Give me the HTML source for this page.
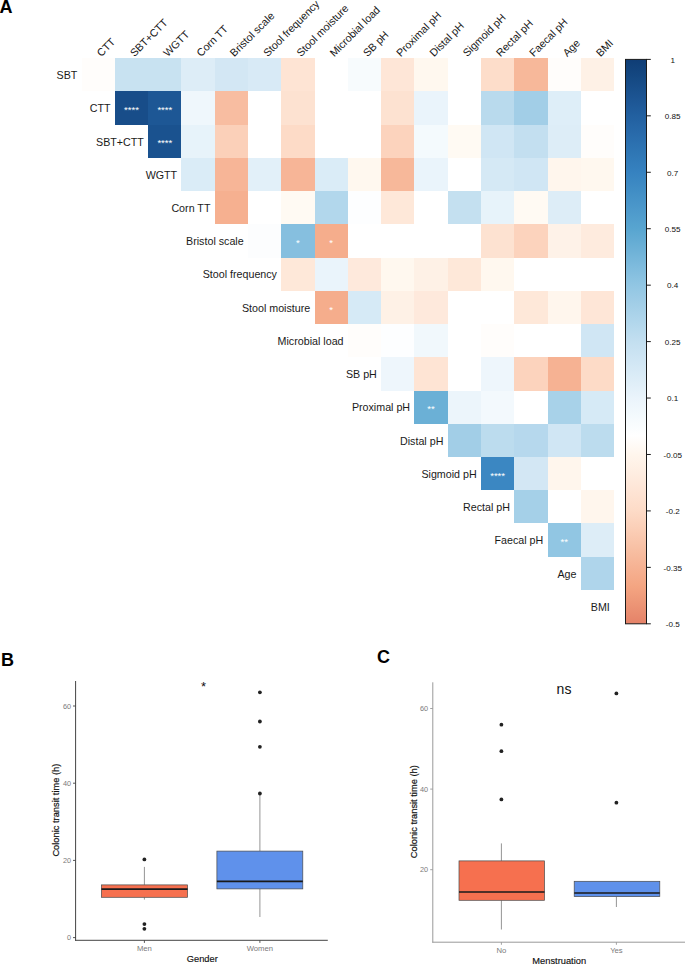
<!DOCTYPE html>
<html><head><meta charset="utf-8"><title>Figure</title>
<style>
html,body{margin:0;padding:0;background:#fff;}
body{width:685px;height:964px;overflow:hidden;position:relative;font-family:"Liberation Sans", sans-serif;}
svg{position:absolute;left:0;top:0;}
svg text{font-family:"Liberation Sans", sans-serif;}
</style></head><body>
<svg width="685" height="964" viewBox="0 0 685 964">
<defs>
<linearGradient id="cb" x1="0" y1="1" x2="0" y2="0">
<stop offset="0.0000" stop-color="#E58268"/>
<stop offset="0.0333" stop-color="#EC9475"/>
<stop offset="0.0667" stop-color="#F4A582"/>
<stop offset="0.1000" stop-color="#F6B293"/>
<stop offset="0.1333" stop-color="#F8C0A4"/>
<stop offset="0.1667" stop-color="#FBCEB6"/>
<stop offset="0.2000" stop-color="#FDDBC7"/>
<stop offset="0.2333" stop-color="#FEE4D4"/>
<stop offset="0.2667" stop-color="#FEEDE1"/>
<stop offset="0.3000" stop-color="#FFF6ED"/>
<stop offset="0.3333" stop-color="#FFFFFF"/>
<stop offset="0.3667" stop-color="#F4FAFD"/>
<stop offset="0.4000" stop-color="#EAF4FB"/>
<stop offset="0.4333" stop-color="#DDEDF7"/>
<stop offset="0.4667" stop-color="#D0E6F4"/>
<stop offset="0.5000" stop-color="#C3DFF0"/>
<stop offset="0.5333" stop-color="#B2D7EC"/>
<stop offset="0.5667" stop-color="#A2CEE7"/>
<stop offset="0.6000" stop-color="#91C6E3"/>
<stop offset="0.6333" stop-color="#7EBBDD"/>
<stop offset="0.6667" stop-color="#6BB0D6"/>
<stop offset="0.7000" stop-color="#58A5D0"/>
<stop offset="0.7333" stop-color="#4D99CB"/>
<stop offset="0.7667" stop-color="#418EC5"/>
<stop offset="0.8000" stop-color="#3682C0"/>
<stop offset="0.8333" stop-color="#2F77B5"/>
<stop offset="0.8667" stop-color="#296BAB"/>
<stop offset="0.9000" stop-color="#2260A0"/>
<stop offset="0.9333" stop-color="#1C5492"/>
<stop offset="0.9667" stop-color="#154983"/>
<stop offset="1.0000" stop-color="#0F3D75"/>
</linearGradient>
</defs>
<text x="-0.5" y="12.9" font-size="18" font-weight="bold" fill="#000">A</text>
<text x="1.0" y="665.5" font-size="18" font-weight="bold" fill="#000">B</text>
<text x="377.0" y="663.3" font-size="18" font-weight="bold" fill="#000">C</text>
<rect x="82" y="58" width="33" height="33" fill="#FFFDFB" shape-rendering="crispEdges"/>
<rect x="115" y="58" width="33" height="33" fill="#C8E2F1" shape-rendering="crispEdges"/>
<rect x="148" y="58" width="33" height="33" fill="#C8E2F1" shape-rendering="crispEdges"/>
<rect x="181" y="58" width="34" height="33" fill="#DDEDF7" shape-rendering="crispEdges"/>
<rect x="215" y="58" width="33" height="33" fill="#D3E7F4" shape-rendering="crispEdges"/>
<rect x="248" y="58" width="33" height="33" fill="#D8EAF6" shape-rendering="crispEdges"/>
<rect x="281" y="58" width="34" height="33" fill="#FEE4D4" shape-rendering="crispEdges"/>
<rect x="315" y="58" width="33" height="33" fill="#FFFFFF" shape-rendering="crispEdges"/>
<rect x="348" y="58" width="33" height="33" fill="#F7FBFD" shape-rendering="crispEdges"/>
<rect x="381" y="58" width="33" height="33" fill="#FEE6D7" shape-rendering="crispEdges"/>
<rect x="414" y="58" width="34" height="33" fill="#FFF8EF" shape-rendering="crispEdges"/>
<rect x="448" y="58" width="33" height="33" fill="#FFFFFF" shape-rendering="crispEdges"/>
<rect x="481" y="58" width="33" height="33" fill="#FDDDCA" shape-rendering="crispEdges"/>
<rect x="514" y="58" width="34" height="33" fill="#F7B89A" shape-rendering="crispEdges"/>
<rect x="548" y="58" width="33" height="33" fill="#FFFDFB" shape-rendering="crispEdges"/>
<rect x="581" y="58" width="33" height="33" fill="#FEF1E6" shape-rendering="crispEdges"/>
<rect x="115" y="91" width="33" height="34" fill="#184D89" shape-rendering="crispEdges"/>
<rect x="148" y="91" width="33" height="34" fill="#1D5795" shape-rendering="crispEdges"/>
<rect x="181" y="91" width="34" height="34" fill="#EFF7FC" shape-rendering="crispEdges"/>
<rect x="215" y="91" width="33" height="34" fill="#F8BDA1" shape-rendering="crispEdges"/>
<rect x="248" y="91" width="33" height="34" fill="#FFFFFF" shape-rendering="crispEdges"/>
<rect x="281" y="91" width="34" height="34" fill="#FDE2D1" shape-rendering="crispEdges"/>
<rect x="315" y="91" width="33" height="34" fill="#FFFFFF" shape-rendering="crispEdges"/>
<rect x="348" y="91" width="33" height="34" fill="#FFFFFF" shape-rendering="crispEdges"/>
<rect x="381" y="91" width="33" height="34" fill="#FDE2D1" shape-rendering="crispEdges"/>
<rect x="414" y="91" width="34" height="34" fill="#EAF4FB" shape-rendering="crispEdges"/>
<rect x="448" y="91" width="33" height="34" fill="#FFFFFF" shape-rendering="crispEdges"/>
<rect x="481" y="91" width="33" height="34" fill="#B9DAED" shape-rendering="crispEdges"/>
<rect x="514" y="91" width="34" height="34" fill="#A2CEE7" shape-rendering="crispEdges"/>
<rect x="548" y="91" width="33" height="34" fill="#DEEEF8" shape-rendering="crispEdges"/>
<rect x="581" y="91" width="33" height="34" fill="#FFFFFF" shape-rendering="crispEdges"/>
<rect x="148" y="125" width="33" height="33" fill="#1A528F" shape-rendering="crispEdges"/>
<rect x="181" y="125" width="34" height="33" fill="#E7F3FA" shape-rendering="crispEdges"/>
<rect x="215" y="125" width="33" height="33" fill="#FBD0B9" shape-rendering="crispEdges"/>
<rect x="248" y="125" width="33" height="33" fill="#FFFFFF" shape-rendering="crispEdges"/>
<rect x="281" y="125" width="34" height="33" fill="#FDDBC7" shape-rendering="crispEdges"/>
<rect x="315" y="125" width="33" height="33" fill="#FFFFFF" shape-rendering="crispEdges"/>
<rect x="348" y="125" width="33" height="33" fill="#FFFFFF" shape-rendering="crispEdges"/>
<rect x="381" y="125" width="33" height="33" fill="#FCD3BD" shape-rendering="crispEdges"/>
<rect x="414" y="125" width="34" height="33" fill="#F4FAFD" shape-rendering="crispEdges"/>
<rect x="448" y="125" width="33" height="33" fill="#FFFAF3" shape-rendering="crispEdges"/>
<rect x="481" y="125" width="33" height="33" fill="#D0E6F4" shape-rendering="crispEdges"/>
<rect x="514" y="125" width="34" height="33" fill="#C3DFF0" shape-rendering="crispEdges"/>
<rect x="548" y="125" width="33" height="33" fill="#DDEDF7" shape-rendering="crispEdges"/>
<rect x="581" y="125" width="33" height="33" fill="#FFFDFB" shape-rendering="crispEdges"/>
<rect x="181" y="158" width="34" height="33" fill="#DAECF7" shape-rendering="crispEdges"/>
<rect x="215" y="158" width="33" height="33" fill="#F7B597" shape-rendering="crispEdges"/>
<rect x="248" y="158" width="33" height="33" fill="#E2F0F9" shape-rendering="crispEdges"/>
<rect x="281" y="158" width="34" height="33" fill="#F7B597" shape-rendering="crispEdges"/>
<rect x="315" y="158" width="33" height="33" fill="#DAECF7" shape-rendering="crispEdges"/>
<rect x="348" y="158" width="33" height="33" fill="#FFF8EF" shape-rendering="crispEdges"/>
<rect x="381" y="158" width="33" height="33" fill="#F7B89A" shape-rendering="crispEdges"/>
<rect x="414" y="158" width="34" height="33" fill="#EAF4FB" shape-rendering="crispEdges"/>
<rect x="448" y="158" width="33" height="33" fill="#FFFFFF" shape-rendering="crispEdges"/>
<rect x="481" y="158" width="33" height="33" fill="#D5E9F5" shape-rendering="crispEdges"/>
<rect x="514" y="158" width="34" height="33" fill="#D0E6F4" shape-rendering="crispEdges"/>
<rect x="548" y="158" width="33" height="33" fill="#FFF6ED" shape-rendering="crispEdges"/>
<rect x="581" y="158" width="33" height="33" fill="#FFF8EF" shape-rendering="crispEdges"/>
<rect x="215" y="191" width="33" height="33" fill="#F6B090" shape-rendering="crispEdges"/>
<rect x="248" y="191" width="33" height="33" fill="#FFFFFF" shape-rendering="crispEdges"/>
<rect x="281" y="191" width="34" height="33" fill="#FFFAF3" shape-rendering="crispEdges"/>
<rect x="315" y="191" width="33" height="33" fill="#B2D7EC" shape-rendering="crispEdges"/>
<rect x="348" y="191" width="33" height="33" fill="#FDFEFF" shape-rendering="crispEdges"/>
<rect x="381" y="191" width="33" height="33" fill="#FEE8D9" shape-rendering="crispEdges"/>
<rect x="414" y="191" width="34" height="33" fill="#FFFFFF" shape-rendering="crispEdges"/>
<rect x="448" y="191" width="33" height="33" fill="#C4E0F0" shape-rendering="crispEdges"/>
<rect x="481" y="191" width="33" height="33" fill="#E7F3FA" shape-rendering="crispEdges"/>
<rect x="514" y="191" width="34" height="33" fill="#FFFAF3" shape-rendering="crispEdges"/>
<rect x="548" y="191" width="33" height="33" fill="#DDEDF7" shape-rendering="crispEdges"/>
<rect x="581" y="191" width="33" height="33" fill="#FFFFFF" shape-rendering="crispEdges"/>
<rect x="248" y="224" width="33" height="34" fill="#FCFDFE" shape-rendering="crispEdges"/>
<rect x="281" y="224" width="34" height="34" fill="#86BFDF" shape-rendering="crispEdges"/>
<rect x="315" y="224" width="33" height="34" fill="#F5AD8C" shape-rendering="crispEdges"/>
<rect x="348" y="224" width="33" height="34" fill="#FFFFFF" shape-rendering="crispEdges"/>
<rect x="381" y="224" width="33" height="34" fill="#FFFFFF" shape-rendering="crispEdges"/>
<rect x="414" y="224" width="34" height="34" fill="#FFFFFF" shape-rendering="crispEdges"/>
<rect x="448" y="224" width="33" height="34" fill="#FFFFFF" shape-rendering="crispEdges"/>
<rect x="481" y="224" width="33" height="34" fill="#FDE2D1" shape-rendering="crispEdges"/>
<rect x="514" y="224" width="34" height="34" fill="#FCD3BD" shape-rendering="crispEdges"/>
<rect x="548" y="224" width="33" height="34" fill="#FEF2E8" shape-rendering="crispEdges"/>
<rect x="581" y="224" width="33" height="34" fill="#FEEBDE" shape-rendering="crispEdges"/>
<rect x="281" y="258" width="34" height="33" fill="#FEE8D9" shape-rendering="crispEdges"/>
<rect x="315" y="258" width="33" height="33" fill="#EAF4FB" shape-rendering="crispEdges"/>
<rect x="348" y="258" width="33" height="33" fill="#FEE9DC" shape-rendering="crispEdges"/>
<rect x="381" y="258" width="33" height="33" fill="#FFF8EF" shape-rendering="crispEdges"/>
<rect x="414" y="258" width="34" height="33" fill="#FEF1E6" shape-rendering="crispEdges"/>
<rect x="448" y="258" width="33" height="33" fill="#FEE8D9" shape-rendering="crispEdges"/>
<rect x="481" y="258" width="33" height="33" fill="#FFF8EF" shape-rendering="crispEdges"/>
<rect x="514" y="258" width="34" height="33" fill="#FFFFFF" shape-rendering="crispEdges"/>
<rect x="548" y="258" width="33" height="33" fill="#FFFFFF" shape-rendering="crispEdges"/>
<rect x="581" y="258" width="33" height="33" fill="#FFFFFF" shape-rendering="crispEdges"/>
<rect x="315" y="291" width="33" height="33" fill="#F5AD8C" shape-rendering="crispEdges"/>
<rect x="348" y="291" width="33" height="33" fill="#D6EAF6" shape-rendering="crispEdges"/>
<rect x="381" y="291" width="33" height="33" fill="#FEF1E6" shape-rendering="crispEdges"/>
<rect x="414" y="291" width="34" height="33" fill="#FEE9DC" shape-rendering="crispEdges"/>
<rect x="448" y="291" width="33" height="33" fill="#FFFFFF" shape-rendering="crispEdges"/>
<rect x="481" y="291" width="33" height="33" fill="#FFFFFF" shape-rendering="crispEdges"/>
<rect x="514" y="291" width="34" height="33" fill="#FEE8D9" shape-rendering="crispEdges"/>
<rect x="548" y="291" width="33" height="33" fill="#FFF6ED" shape-rendering="crispEdges"/>
<rect x="581" y="291" width="33" height="33" fill="#FEE6D7" shape-rendering="crispEdges"/>
<rect x="348" y="324" width="33" height="33" fill="#FFFDFB" shape-rendering="crispEdges"/>
<rect x="381" y="324" width="33" height="33" fill="#FDFEFF" shape-rendering="crispEdges"/>
<rect x="414" y="324" width="34" height="33" fill="#F1F8FC" shape-rendering="crispEdges"/>
<rect x="448" y="324" width="33" height="33" fill="#FFFFFF" shape-rendering="crispEdges"/>
<rect x="481" y="324" width="33" height="33" fill="#FFFDFB" shape-rendering="crispEdges"/>
<rect x="514" y="324" width="34" height="33" fill="#FFFFFF" shape-rendering="crispEdges"/>
<rect x="548" y="324" width="33" height="33" fill="#FFFFFF" shape-rendering="crispEdges"/>
<rect x="581" y="324" width="33" height="33" fill="#D0E6F4" shape-rendering="crispEdges"/>
<rect x="381" y="357" width="33" height="34" fill="#EEF6FC" shape-rendering="crispEdges"/>
<rect x="414" y="357" width="34" height="34" fill="#FEE4D4" shape-rendering="crispEdges"/>
<rect x="448" y="357" width="33" height="34" fill="#FFFFFF" shape-rendering="crispEdges"/>
<rect x="481" y="357" width="33" height="34" fill="#EEF6FC" shape-rendering="crispEdges"/>
<rect x="514" y="357" width="34" height="34" fill="#FCD3BD" shape-rendering="crispEdges"/>
<rect x="548" y="357" width="33" height="34" fill="#F6B293" shape-rendering="crispEdges"/>
<rect x="581" y="357" width="33" height="34" fill="#FDDBC7" shape-rendering="crispEdges"/>
<rect x="414" y="391" width="34" height="33" fill="#6BB0D6" shape-rendering="crispEdges"/>
<rect x="448" y="391" width="33" height="33" fill="#ECF5FB" shape-rendering="crispEdges"/>
<rect x="481" y="391" width="33" height="33" fill="#F3F9FD" shape-rendering="crispEdges"/>
<rect x="514" y="391" width="34" height="33" fill="#FFFFFF" shape-rendering="crispEdges"/>
<rect x="548" y="391" width="33" height="33" fill="#A8D2E9" shape-rendering="crispEdges"/>
<rect x="581" y="391" width="33" height="33" fill="#D6EAF6" shape-rendering="crispEdges"/>
<rect x="448" y="424" width="33" height="33" fill="#A2CEE7" shape-rendering="crispEdges"/>
<rect x="481" y="424" width="33" height="33" fill="#BCDCEE" shape-rendering="crispEdges"/>
<rect x="514" y="424" width="34" height="33" fill="#B6D8ED" shape-rendering="crispEdges"/>
<rect x="548" y="424" width="33" height="33" fill="#D0E6F4" shape-rendering="crispEdges"/>
<rect x="581" y="424" width="33" height="33" fill="#BCDCEE" shape-rendering="crispEdges"/>
<rect x="481" y="457" width="33" height="33" fill="#3B87C2" shape-rendering="crispEdges"/>
<rect x="514" y="457" width="34" height="33" fill="#D3E7F4" shape-rendering="crispEdges"/>
<rect x="548" y="457" width="33" height="33" fill="#FFF6ED" shape-rendering="crispEdges"/>
<rect x="581" y="457" width="33" height="33" fill="#FFFFFF" shape-rendering="crispEdges"/>
<rect x="514" y="490" width="34" height="33" fill="#A5D0E8" shape-rendering="crispEdges"/>
<rect x="548" y="490" width="33" height="33" fill="#FFFFFF" shape-rendering="crispEdges"/>
<rect x="581" y="490" width="33" height="33" fill="#FFF6ED" shape-rendering="crispEdges"/>
<rect x="548" y="523" width="33" height="34" fill="#91C6E3" shape-rendering="crispEdges"/>
<rect x="581" y="523" width="33" height="34" fill="#DDEDF7" shape-rendering="crispEdges"/>
<rect x="581" y="557" width="33" height="33" fill="#AFD5EB" shape-rendering="crispEdges"/>
<text x="131.52" y="113.16" font-size="9.5" fill="#fff" text-anchor="middle">****</text>
<text x="164.80" y="113.16" font-size="9.5" fill="#fff" text-anchor="middle">****</text>
<text x="164.80" y="146.40" font-size="9.5" fill="#fff" text-anchor="middle">****</text>
<text x="297.92" y="246.12" font-size="9.5" fill="#fff" text-anchor="middle">*</text>
<text x="331.20" y="246.12" font-size="9.5" fill="#fff" text-anchor="middle">*</text>
<text x="331.20" y="312.60" font-size="9.5" fill="#fff" text-anchor="middle">*</text>
<text x="431.04" y="412.32" font-size="9.5" fill="#fff" text-anchor="middle">**</text>
<text x="497.60" y="478.80" font-size="9.5" fill="#fff" text-anchor="middle">****</text>
<text x="564.16" y="545.28" font-size="9.5" fill="#fff" text-anchor="middle">**</text>
<text x="77.30" y="79.02" font-size="10.7" fill="#1a1a1a" text-anchor="end">SBT</text>
<text x="110.58" y="112.26" font-size="10.7" fill="#1a1a1a" text-anchor="end">CTT</text>
<text x="143.86" y="145.50" font-size="10.7" fill="#1a1a1a" text-anchor="end">SBT+CTT</text>
<text x="177.14" y="178.74" font-size="10.7" fill="#1a1a1a" text-anchor="end">WGTT</text>
<text x="210.42" y="211.98" font-size="10.7" fill="#1a1a1a" text-anchor="end">Corn TT</text>
<text x="243.70" y="245.22" font-size="10.7" fill="#1a1a1a" text-anchor="end">Bristol scale</text>
<text x="276.98" y="278.46" font-size="10.7" fill="#1a1a1a" text-anchor="end">Stool frequency</text>
<text x="310.26" y="311.70" font-size="10.7" fill="#1a1a1a" text-anchor="end">Stool moisture</text>
<text x="343.54" y="344.94" font-size="10.7" fill="#1a1a1a" text-anchor="end">Microbial load</text>
<text x="376.82" y="378.18" font-size="10.7" fill="#1a1a1a" text-anchor="end">SB pH</text>
<text x="410.10" y="411.42" font-size="10.7" fill="#1a1a1a" text-anchor="end">Proximal pH</text>
<text x="443.38" y="444.66" font-size="10.7" fill="#1a1a1a" text-anchor="end">Distal pH</text>
<text x="476.66" y="477.90" font-size="10.7" fill="#1a1a1a" text-anchor="end">Sigmoid pH</text>
<text x="509.94" y="511.14" font-size="10.7" fill="#1a1a1a" text-anchor="end">Rectal pH</text>
<text x="543.22" y="544.38" font-size="10.7" fill="#1a1a1a" text-anchor="end">Faecal pH</text>
<text x="576.50" y="577.62" font-size="10.7" fill="#1a1a1a" text-anchor="end">Age</text>
<text x="609.78" y="610.86" font-size="10.7" fill="#1a1a1a" text-anchor="end">BMI</text>
<text x="101.24" y="57.30" font-size="10.7" fill="#1a1a1a" transform="rotate(-45 101.24 57.30)">CTT</text>
<text x="134.52" y="57.30" font-size="10.7" fill="#1a1a1a" transform="rotate(-45 134.52 57.30)">SBT+CTT</text>
<text x="167.80" y="57.30" font-size="10.7" fill="#1a1a1a" transform="rotate(-45 167.80 57.30)">WGTT</text>
<text x="201.08" y="57.30" font-size="10.7" fill="#1a1a1a" transform="rotate(-45 201.08 57.30)">Corn TT</text>
<text x="234.36" y="57.30" font-size="10.7" fill="#1a1a1a" transform="rotate(-45 234.36 57.30)">Bristol scale</text>
<text x="267.64" y="57.30" font-size="10.7" fill="#1a1a1a" transform="rotate(-45 267.64 57.30)">Stool frequency</text>
<text x="300.92" y="57.30" font-size="10.7" fill="#1a1a1a" transform="rotate(-45 300.92 57.30)">Stool moisture</text>
<text x="334.20" y="57.30" font-size="10.7" fill="#1a1a1a" transform="rotate(-45 334.20 57.30)">Microbial load</text>
<text x="367.48" y="57.30" font-size="10.7" fill="#1a1a1a" transform="rotate(-45 367.48 57.30)">SB pH</text>
<text x="400.76" y="57.30" font-size="10.7" fill="#1a1a1a" transform="rotate(-45 400.76 57.30)">Proximal pH</text>
<text x="434.04" y="57.30" font-size="10.7" fill="#1a1a1a" transform="rotate(-45 434.04 57.30)">Distal pH</text>
<text x="467.32" y="57.30" font-size="10.7" fill="#1a1a1a" transform="rotate(-45 467.32 57.30)">Sigmoid pH</text>
<text x="500.60" y="57.30" font-size="10.7" fill="#1a1a1a" transform="rotate(-45 500.60 57.30)">Rectal pH</text>
<text x="533.88" y="57.30" font-size="10.7" fill="#1a1a1a" transform="rotate(-45 533.88 57.30)">Faecal pH</text>
<text x="567.16" y="57.30" font-size="10.7" fill="#1a1a1a" transform="rotate(-45 567.16 57.30)">Age</text>
<text x="600.44" y="57.30" font-size="10.7" fill="#1a1a1a" transform="rotate(-45 600.44 57.30)">BMI</text>
<rect x="625.5" y="59.4" width="21.0" height="564.4" fill="url(#cb)" stroke="#1a1a1a" stroke-width="1"/>
<line x1="646.5" y1="59.40" x2="650.8" y2="59.40" stroke="#1a1a1a" stroke-width="1"/>
<text x="672.7" y="62.70" font-size="8.1" fill="#111" text-anchor="middle">1</text>
<line x1="646.5" y1="115.84" x2="650.8" y2="115.84" stroke="#1a1a1a" stroke-width="1"/>
<text x="672.7" y="119.14" font-size="8.1" fill="#111" text-anchor="middle">0.85</text>
<line x1="646.5" y1="172.28" x2="650.8" y2="172.28" stroke="#1a1a1a" stroke-width="1"/>
<text x="672.7" y="175.58" font-size="8.1" fill="#111" text-anchor="middle">0.7</text>
<line x1="646.5" y1="228.72" x2="650.8" y2="228.72" stroke="#1a1a1a" stroke-width="1"/>
<text x="672.7" y="232.02" font-size="8.1" fill="#111" text-anchor="middle">0.55</text>
<line x1="646.5" y1="285.16" x2="650.8" y2="285.16" stroke="#1a1a1a" stroke-width="1"/>
<text x="672.7" y="288.46" font-size="8.1" fill="#111" text-anchor="middle">0.4</text>
<line x1="646.5" y1="341.60" x2="650.8" y2="341.60" stroke="#1a1a1a" stroke-width="1"/>
<text x="672.7" y="344.90" font-size="8.1" fill="#111" text-anchor="middle">0.25</text>
<line x1="646.5" y1="398.04" x2="650.8" y2="398.04" stroke="#1a1a1a" stroke-width="1"/>
<text x="672.7" y="401.34" font-size="8.1" fill="#111" text-anchor="middle">0.1</text>
<line x1="646.5" y1="454.48" x2="650.8" y2="454.48" stroke="#1a1a1a" stroke-width="1"/>
<text x="672.7" y="457.78" font-size="8.1" fill="#111" text-anchor="middle">-0.05</text>
<line x1="646.5" y1="510.92" x2="650.8" y2="510.92" stroke="#1a1a1a" stroke-width="1"/>
<text x="672.7" y="514.22" font-size="8.1" fill="#111" text-anchor="middle">-0.2</text>
<line x1="646.5" y1="567.36" x2="650.8" y2="567.36" stroke="#1a1a1a" stroke-width="1"/>
<text x="672.7" y="570.66" font-size="8.1" fill="#111" text-anchor="middle">-0.35</text>
<line x1="646.5" y1="623.80" x2="650.8" y2="623.80" stroke="#1a1a1a" stroke-width="1"/>
<text x="672.7" y="627.10" font-size="8.1" fill="#111" text-anchor="middle">-0.5</text>
<line x1="75.6" y1="681" x2="75.6" y2="940.8" stroke="#444" stroke-width="1"/>
<line x1="75.1" y1="940.3" x2="327.8" y2="940.3" stroke="#444" stroke-width="1"/>
<line x1="73.0" y1="937.60" x2="75.6" y2="937.60" stroke="#444" stroke-width="0.9"/>
<text x="71.0" y="940.20" font-size="7.3" fill="#7a7a7a" text-anchor="end">0</text>
<line x1="73.0" y1="860.40" x2="75.6" y2="860.40" stroke="#444" stroke-width="0.9"/>
<text x="71.0" y="863.00" font-size="7.3" fill="#7a7a7a" text-anchor="end">20</text>
<line x1="73.0" y1="783.20" x2="75.6" y2="783.20" stroke="#444" stroke-width="0.9"/>
<text x="71.0" y="785.80" font-size="7.3" fill="#7a7a7a" text-anchor="end">40</text>
<line x1="73.0" y1="706.00" x2="75.6" y2="706.00" stroke="#444" stroke-width="0.9"/>
<text x="71.0" y="708.60" font-size="7.3" fill="#7a7a7a" text-anchor="end">60</text>
<line x1="144.4" y1="940.3" x2="144.4" y2="942.9" stroke="#444" stroke-width="0.9"/>
<text x="144.4" y="951.3" font-size="7.7" fill="#7a7a7a" text-anchor="middle">Men</text>
<line x1="259.9" y1="940.3" x2="259.9" y2="942.9" stroke="#444" stroke-width="0.9"/>
<text x="259.9" y="951.3" font-size="7.7" fill="#7a7a7a" text-anchor="middle">Women</text>
<text x="202.3" y="961.6" font-size="9.3" fill="#111" stroke="#111" stroke-width="0.15" text-anchor="middle">Gender</text>
<text x="59.2" y="810.1" font-size="9.3" fill="#111" stroke="#111" stroke-width="0.2" text-anchor="middle" transform="rotate(-90 59.2 810.1)">Colonic transit time (h)</text>
<line x1="144.4" y1="866.9" x2="144.4" y2="884.9" stroke="#7a7a7a" stroke-width="0.8"/>
<line x1="144.4" y1="897.3" x2="144.4" y2="899.6" stroke="#7a7a7a" stroke-width="0.8"/>
<rect x="101.4" y="884.9" width="86.20" height="12.40" fill="#F6704F" stroke="#4a4a4a" stroke-width="0.7"/>
<line x1="101.4" y1="889.1" x2="187.6" y2="889.1" stroke="#1a1a1a" stroke-width="1.7"/>
<circle cx="144.4" cy="859.4" r="1.9" fill="#222"/>
<circle cx="144.4" cy="924.1" r="1.9" fill="#222"/>
<circle cx="144.4" cy="928.8" r="1.9" fill="#222"/>
<line x1="259.9" y1="793.5" x2="259.9" y2="851.1" stroke="#7a7a7a" stroke-width="0.8"/>
<line x1="259.9" y1="888.9" x2="259.9" y2="917.0" stroke="#7a7a7a" stroke-width="0.8"/>
<rect x="216.9" y="851.1" width="85.90" height="37.80" fill="#5F91EB" stroke="#4a4a4a" stroke-width="0.7"/>
<line x1="216.9" y1="881.3" x2="302.8" y2="881.3" stroke="#1a1a1a" stroke-width="1.7"/>
<circle cx="259.9" cy="692.3" r="1.9" fill="#222"/>
<circle cx="259.9" cy="721.5" r="1.9" fill="#222"/>
<circle cx="259.9" cy="746.8" r="1.9" fill="#222"/>
<circle cx="259.9" cy="793.5" r="1.9" fill="#222"/>
<text x="203.6" y="691.3" font-size="13" fill="#111" text-anchor="middle">*</text>
<line x1="432.8" y1="682.3" x2="432.8" y2="942.7" stroke="#999" stroke-width="1"/>
<line x1="432.3" y1="942.2" x2="685" y2="942.2" stroke="#999" stroke-width="1"/>
<line x1="430.2" y1="869.70" x2="432.8" y2="869.70" stroke="#999" stroke-width="0.9"/>
<text x="428.2" y="872.30" font-size="7.3" fill="#7a7a7a" text-anchor="end">20</text>
<line x1="430.2" y1="789.10" x2="432.8" y2="789.10" stroke="#999" stroke-width="0.9"/>
<text x="428.2" y="791.70" font-size="7.3" fill="#7a7a7a" text-anchor="end">40</text>
<line x1="430.2" y1="708.50" x2="432.8" y2="708.50" stroke="#999" stroke-width="0.9"/>
<text x="428.2" y="711.10" font-size="7.3" fill="#7a7a7a" text-anchor="end">60</text>
<line x1="501.4" y1="942.2" x2="501.4" y2="944.8000000000001" stroke="#999" stroke-width="0.9"/>
<text x="501.4" y="953.3" font-size="7.7" fill="#7a7a7a" text-anchor="middle">No</text>
<line x1="616.4" y1="942.2" x2="616.4" y2="944.8000000000001" stroke="#999" stroke-width="0.9"/>
<text x="616.4" y="953.3" font-size="7.7" fill="#7a7a7a" text-anchor="middle">Yes</text>
<text x="559.2" y="964.0" font-size="9.3" fill="#111" stroke="#111" stroke-width="0.15" text-anchor="middle">Menstruation</text>
<text x="417.0" y="811.7" font-size="9.3" fill="#111" stroke="#111" stroke-width="0.2" text-anchor="middle" transform="rotate(-90 417.0 811.7)">Colonic transit time (h)</text>
<line x1="501.4" y1="843.4" x2="501.4" y2="860.9" stroke="#7a7a7a" stroke-width="0.8"/>
<line x1="501.4" y1="900.3" x2="501.4" y2="929.5" stroke="#7a7a7a" stroke-width="0.8"/>
<rect x="459.0" y="860.9" width="85.50" height="39.40" fill="#F6704F" stroke="#4a4a4a" stroke-width="0.7"/>
<line x1="459.0" y1="892.0" x2="544.5" y2="892.0" stroke="#1a1a1a" stroke-width="1.7"/>
<circle cx="501.4" cy="724.7" r="1.9" fill="#222"/>
<circle cx="501.4" cy="751.2" r="1.9" fill="#222"/>
<circle cx="501.4" cy="799.4" r="1.9" fill="#222"/>
<line x1="616.4" y1="881.3" x2="616.4" y2="881.3" stroke="#7a7a7a" stroke-width="0.8"/>
<line x1="616.4" y1="896.6" x2="616.4" y2="907.0" stroke="#7a7a7a" stroke-width="0.8"/>
<rect x="574.2" y="881.3" width="85.60" height="15.30" fill="#5F91EB" stroke="#4a4a4a" stroke-width="0.7"/>
<line x1="574.2" y1="893.0" x2="659.8" y2="893.0" stroke="#1a1a1a" stroke-width="1.7"/>
<circle cx="616.4" cy="693.4" r="1.9" fill="#222"/>
<circle cx="616.4" cy="802.7" r="1.9" fill="#222"/>
<text x="564.0" y="693.8" font-size="14" fill="#111" text-anchor="middle">ns</text>
</svg>
</body></html>
